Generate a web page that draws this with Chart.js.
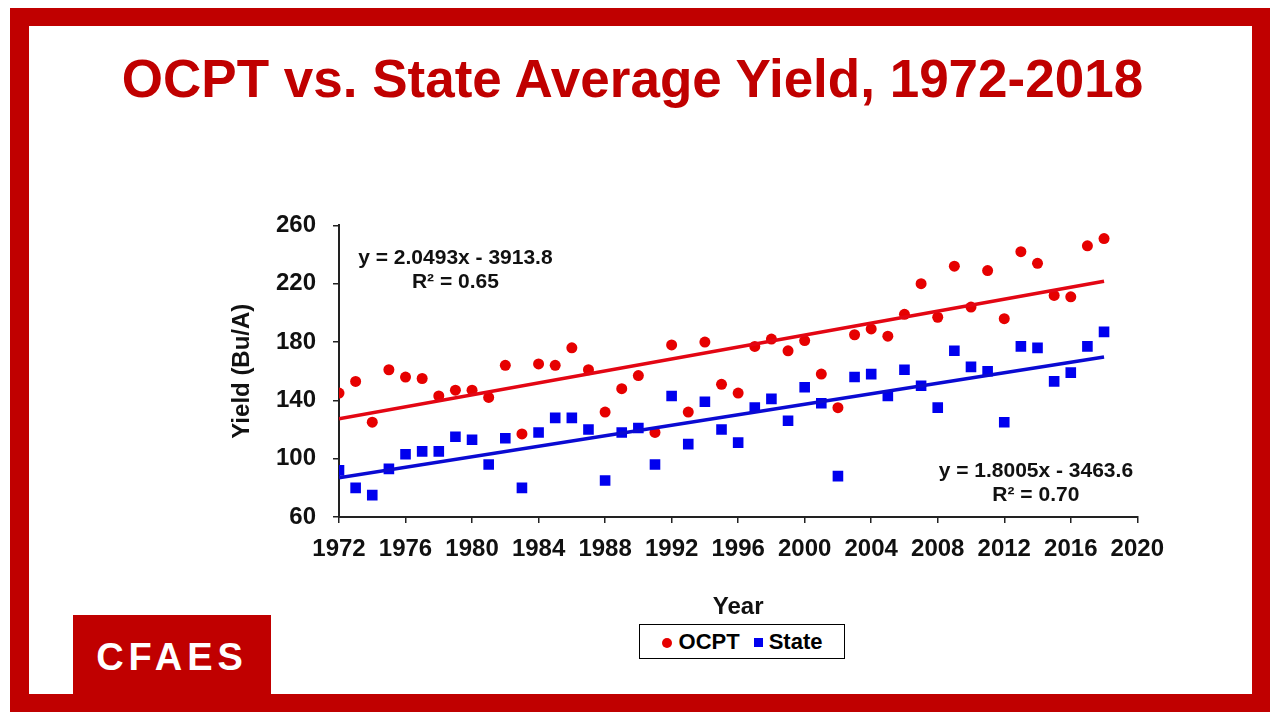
<!DOCTYPE html>
<html lang="en">
<head>
  <meta charset="UTF-8">
  <title>OCPT vs. State Average Yield</title>
  <style>
    body { margin: 0; width: 1280px; height: 720px; background: #fff; position: relative; overflow: hidden;
           font-family: "Liberation Sans", Arial, sans-serif; }
    #frame { position: absolute; left: 10px; top: 8px; width: 1260px; height: 704px; background: #c00000; }
    #inner { position: absolute; left: 29px; top: 26px; width: 1223px; height: 668px; background: #fff; }
    #logo { position: absolute; left: 73px; top: 615px; width: 198px; height: 79px; background: #c00000;
            color: #fff; font-weight: bold; font-size: 38px; letter-spacing: 5px; text-align: center; line-height: 84px; }
    #title { position: absolute; left: 0; width: 1265px; top: 48px; text-align: center; color: #c00000;
             font-weight: bold; font-size: 53px; }
    #box { position: absolute; left: 200px; top: 194px; width: 976px; height: 428px; }
    #legend { position: absolute; left: 639px; top: 624px; width: 204px; height: 33px; border: 1px solid #000;
              font-weight: bold; font-size: 22px; line-height: 33px; text-align: center; background: #fff; }
    .dot { display: inline-block; width: 10px; height: 10px; border-radius: 50%; background: #e60000; margin-right: 7px; vertical-align: 1px; }
    .sq { display: inline-block; width: 9px; height: 9px; background: #0000ee; margin-right: 6px; margin-left: 14px; vertical-align: 2px; }
  </style>
</head>
<body>
  <div id="frame"></div>
  <div id="inner"></div>
  <div id="title">OCPT vs. State Average Yield, 1972-2018</div>
  <div id="box"><canvas id="grafico"></canvas></div>
  <div id="legend"><span class="dot"></span>OCPT<span class="sq"></span>State</div>
  <div id="logo">CFAES</div>

  <script src="https://cdn.jsdelivr.net/npm/chart.js"></script>
  <script>
    // anos 1972-2018
    const anos = [];
    for (let a = 1972; a <= 2018; a++) anos.push(a);

    const ocpt = [145, 153, 125, 161, 156, 155, 143, 147, 147, 142,
                  164, 117, 165, 164, 176, 161, 132, 148, 157, 118,
                  178, 132, 180, 151, 145, 177, 182, 174, 181, 158,
                  135, 185, 189, 184, 199, 220, 197, 232, 204, 229,
                  196, 242, 234, 212, 211, 246, 251];

    const estado = [92, 80, 75, 93, 103, 105, 105, 115, 113, 96,
                    114, 80, 118, 128, 128, 120, 85, 118, 121, 96,
                    143, 110, 139, 120, 111, 135, 141, 126, 149, 138,
                    88, 156, 158, 143, 161, 150, 135, 174, 163, 160,
                    125, 177, 176, 153, 159, 177, 187];

    // tendencias (coeficientes mostrados no grafico)
    const tendOcpt = { a: 2.0493, b: -3913.8, r2: '0.65' };
    const tendEstado = { a: 1.8005, b: -3463.6, r2: '0.70' };

    const ticksX = [1972, 1976, 1980, 1984, 1988, 1992, 1996, 2000, 2004, 2008, 2012, 2016, 2020];
    const ticksY = [60, 100, 140, 180, 220, 260];

    const pts = (ys) => anos.map((x, i) => ({ x: x, y: ys[i] }));
    const linha = (t) => [1972, 2018].map(x => ({ x: x, y: t.a * x + t.b }));

    // textos das equacoes
    const rotulos = [
      { x: 1979, y: 237.5, txt: 'y = 2.0493x - 3913.8' },
      { x: 1979, y: 221, txt: 'R\u00b2 = ' + tendOcpt.r2 },
      { x: 2013.9, y: 91.5, txt: 'y = 1.8005x - 3463.6' },
      { x: 2013.9, y: 75, txt: 'R\u00b2 = ' + tendEstado.r2 }
    ];

    const equacoes = {
      id: 'equacoes',
      afterDatasetsDraw(chart) {
        const c = chart.ctx;
        c.save();
        c.font = 'bold 21px "Liberation Sans", Arial';
        c.fillStyle = '#111';
        c.textAlign = 'center';
        c.textBaseline = 'middle';
        rotulos.forEach(r => {
          c.fillText(r.txt, chart.scales.x.getPixelForValue(r.x), chart.scales.y.getPixelForValue(r.y));
        });
        c.restore();
      }
    };

    const fonte = { family: '"Liberation Sans", Arial', size: 24, weight: 'bold' };

    window.onload = function() {
      const ctx = document.getElementById('grafico').getContext('2d');
      new Chart(ctx, {
        type: 'scatter',
        data: {
          datasets: [
            { label: 'OCPT', data: pts(ocpt), backgroundColor: '#e60000', pointStyle: 'circle',
              pointRadius: 5.5, pointBorderWidth: 0, order: 3 },
            { label: 'State', data: pts(estado), backgroundColor: '#0000ee', pointStyle: 'rect',
              pointRadius: 7.5, pointBorderWidth: 0, order: 2 },
            { type: 'line', data: linha(tendOcpt), borderColor: '#e30613', borderWidth: 3.5,
              pointRadius: 0, order: 1 },
            { type: 'line', data: linha(tendEstado), borderColor: '#0a0ad2', borderWidth: 3.5,
              pointRadius: 0, order: 0 }
          ]
        },
        options: {
          responsive: true,
          maintainAspectRatio: false,
          animation: false,
          layout: { padding: { top: 0, right: 0, left: 0, bottom: 0 } },
          plugins: { legend: { display: false }, tooltip: { enabled: false } },
          scales: {
            x: {
              type: 'linear', min: 1972, max: 2020,
              afterBuildTicks: s => { s.ticks = ticksX.map(v => ({ value: v })); },
              afterFit: s => { s.height = 105; },
              ticks: { color: '#111', font: fonte, padding: 12, maxRotation: 0, autoSkip: false,
                       callback: v => String(v) },
              grid: { drawOnChartArea: false, drawTicks: true, tickLength: 6, color: '#222', lineWidth: 1.5 },
              border: { color: '#222', width: 2 },
              title: { display: true, text: 'Year', color: '#111', font: fonte, padding: { top: 0, bottom: 0 } }
            },
            y: {
              min: 60, max: 260,
              afterBuildTicks: s => { s.ticks = ticksY.map(v => ({ value: v })); },
              afterFit: s => { s.width = 139; },
              ticks: { color: '#111', font: fonte, padding: 17 },
              grid: { drawOnChartArea: false, drawTicks: true, tickLength: 6, color: '#222', lineWidth: 1.5 },
              border: { color: '#222', width: 2 },
              title: { display: true, text: 'Yield (Bu/A)', color: '#111', font: fonte, padding: { top: 28, bottom: 0 } }
            }
          }
        },
        plugins: [equacoes]
      });
    };
  </script>
</body>
</html>
